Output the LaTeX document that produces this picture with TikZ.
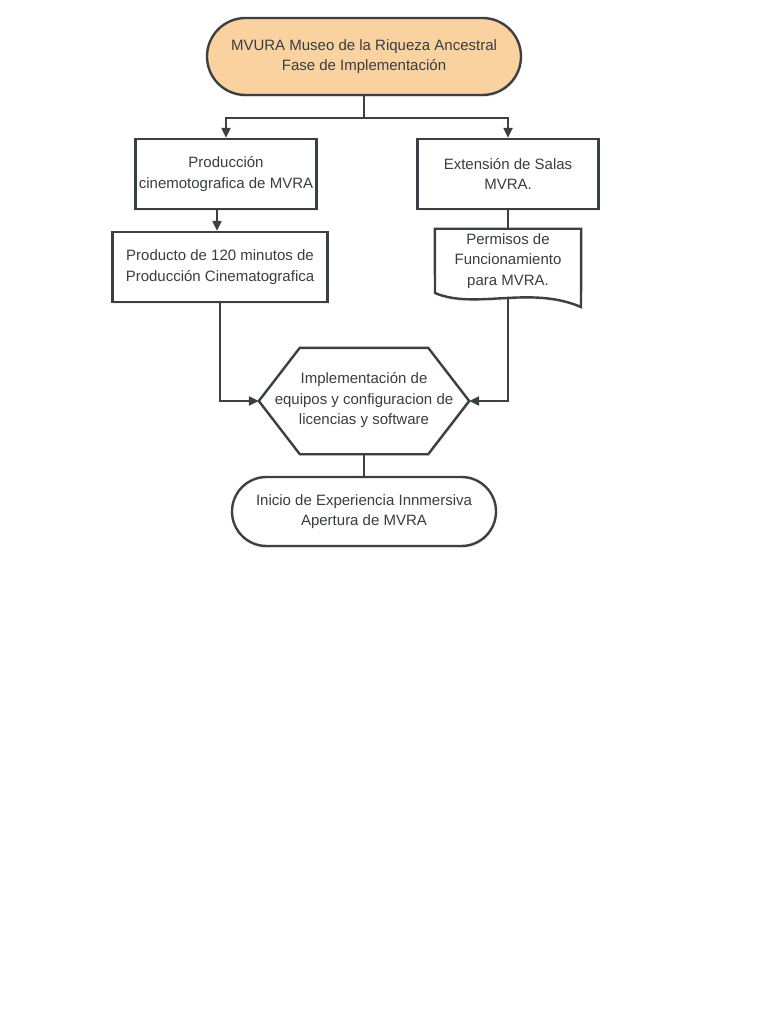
\documentclass[tikz,border=0pt]{standalone}
\usepackage{fontspec}
\setmainfont{Liberation Sans}
\usetikzlibrary{arrows.meta,shapes.misc,shadows}
\definecolor{ln}{HTML}{3B4045}
\definecolor{tx}{HTML}{3A3D41}
\definecolor{orangefill}{HTML}{F9D29F}
\tikzset{
  base/.style={draw=ln, line width=2.4pt, text=tx, align=center,
    font=\fontsize{15pt}{20.5pt}\selectfont, inner sep=0pt,
    drop shadow={opacity=0.12, shadow xshift=1pt, shadow yshift=-2pt}},
  procbox/.style={base, rectangle, fill=white},
  term/.style={base, rounded rectangle, rounded rectangle arc length=180},
  plain/.style={text=tx, align=center, font=\fontsize{15pt}{20.5pt}\selectfont, inner sep=0pt},
  conn/.style={draw=ln, line width=2.2pt},
  arr/.style={conn, -{Triangle[length=10pt,width=9pt]}},
}
\begin{document}
\begin{tikzpicture}[x=1pt,y=-1pt]
\useasboundingbox[fill=white] (0,0) rectangle (768,1024);

% top terminal
\node[term, fill=orangefill, minimum width=314pt, minimum height=77pt] (top) at (364,56.5)
  {MVURA Museo de la Riqueza Ancestral\\Fase de Implementación};

% boxes
\node[procbox, minimum width=181pt, minimum height=70pt] (b1) at (226,174)
  {Producción\\cinemotografica de MVRA};
\node[procbox, minimum width=181pt, minimum height=70pt] (b2) at (508,174)
  {Extensión de Salas\\MVRA.};
\node[procbox, minimum width=215pt, minimum height=70pt] (b3) at (220,267)
  {Producto de 120 minutos de\\Producción Cinematografica};

% document shape
\node[plain, minimum width=146pt, minimum height=65pt] (doc) at (508,261.5) {};
\draw[ln, line width=2.4pt, fill=white, drop shadow={opacity=0.12, shadow xshift=1pt, shadow yshift=-2pt}]
  (doc.north west) -- (doc.north east) -- (581,307)
  .. controls (530,285) and (475,310) .. (435,293) -- cycle;
\node[plain] at (508,261) {Permisos de\\Funcionamiento\\para MVRA.};
\coordinate (docb) at (508,298.5);

% hexagon
\node[plain, minimum width=210pt, minimum height=106pt] (hex) at (364,401) {};
\draw[ln, line width=2.4pt, fill=white, drop shadow={opacity=0.12, shadow xshift=1pt, shadow yshift=-2pt}]
  (hex.west) -- ([xshift=41pt]hex.north west) -- ([xshift=-41pt]hex.north east)
  -- (hex.east) -- ([xshift=-41pt]hex.south east) -- ([xshift=41pt]hex.south west) -- cycle;
\node[plain] at (364,400.5) {Implementación de\\equipos y configuracion de\\licencias y software};

% bottom terminal
\node[term, fill=white, minimum width=264pt, minimum height=69pt] (bot) at (364,511.5)
  {Inicio de Experiencia Innmersiva\\Apertura de MVRA};

% connectors
\coordinate (split) at (364,118);
\draw[conn] (top.south) -- (split);
\draw[arr] (split) -| (b1.north);
\draw[arr] (split) -| (b2.north);
\draw[arr] ([xshift=-9pt]b1.south) -- ([xshift=-3pt]b3.north);
\draw[conn] (b2.south) -- (doc.north);
\draw[arr] (b3.south) |- (hex.west);
\draw[arr] (docb) |- (hex.east);
\draw[conn] (hex.south) -- (bot.north);
\end{tikzpicture}
\end{document}
